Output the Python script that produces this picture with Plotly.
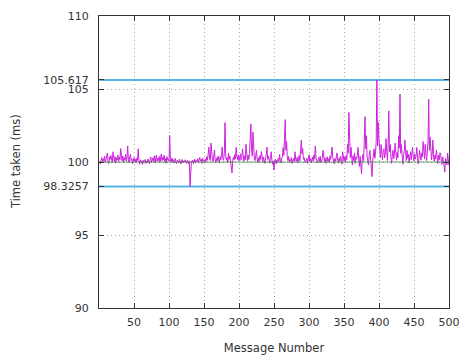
import plotly.graph_objects as go

# Time taken per message (ms), messages 1..500
times = [
    100.05, 99.85, 100.12, 100.31, 99.94, 100.22, 100.08, 100.40, 99.97, 100.15, 100.26, 100.62, 100.03, 99.90, 100.35, 100.18, 100.45, 100.10, 99.96, 100.70,
    100.20, 100.05, 100.38, 99.92, 100.28, 100.14, 100.47, 100.02, 100.33, 100.16, 100.92, 100.24, 100.08, 100.41, 99.98, 100.30, 100.12, 100.55, 100.06, 100.27,
    101.10, 100.18, 99.95, 100.36, 100.52, 100.09, 100.22, 99.88, 100.14, 100.31, 100.04, 100.19, 99.93, 100.26, 100.11, 100.90, 100.07, 99.86, 100.15, 99.97,
    100.08, 99.84, 100.12, 99.95, 100.03, 100.18, 99.90, 100.06, 99.98, 100.21, 100.02, 99.88, 100.14, 100.35, 99.96, 100.10, 100.28, 100.05, 100.42, 99.94,
    100.16, 100.48, 100.03, 100.25, 100.11, 100.38, 99.97, 100.29, 100.55, 100.08, 100.33, 100.15, 100.46, 100.02, 100.24, 99.91, 100.37, 100.12, 100.20, 100.06,
    101.82, 100.15, 99.96, 100.28, 100.05, 100.18, 99.92, 100.10, 100.24, 100.01, 99.89, 100.13, 100.06, 99.95, 100.20, 100.02, 99.87, 100.11, 100.17, 99.94,
    100.08, 99.99, 100.15, 100.03, 99.91, 100.12, 100.05, 99.86, 100.09, 98.3257, 99.92, 100.07, 99.98, 100.14, 99.88, 100.04, 100.19, 99.95, 100.10, 100.02,
    100.23, 99.97, 100.11, 100.32, 100.06, 100.18, 99.90, 100.27, 100.09, 100.14, 99.93, 100.21, 100.05, 100.36, 100.12, 100.48, 101.02, 100.25, 100.10, 101.30,
    100.35, 100.18, 100.04, 100.52, 100.82, 100.14, 99.96, 100.28, 100.09, 100.41, 100.22, 99.93, 100.37, 100.15, 100.48, 101.02, 100.26, 100.11, 100.58, 102.70,
    100.45, 100.12, 100.30, 99.95, 100.62, 100.18, 100.40, 100.08, 99.82, 99.25, 100.05, 100.33, 100.14, 100.52, 100.21, 101.00, 100.38, 100.16, 100.47, 100.09,
    100.28, 100.55, 100.12, 100.36, 100.90, 100.20, 100.05, 100.42, 100.15, 101.22, 100.31, 100.08, 100.48, 100.17, 100.60, 101.35, 102.60, 100.85, 100.40, 102.05,
    100.55, 100.22, 100.10, 100.38, 100.80, 100.15, 99.94, 100.30, 100.05, 100.45, 100.18, 100.72, 100.26, 100.02, 100.35, 100.12, 99.90, 100.28, 100.50, 101.02,
    100.18, 100.40, 100.06, 99.92, 100.33, 100.70, 100.14, 99.85, 100.08, 99.45, 100.02, 100.20, 99.88, 100.12, 99.96, 100.25, 100.04, 100.52, 100.10, 99.93,
    100.22, 100.35, 101.00, 100.45, 101.60, 102.90, 100.80, 101.40, 100.28, 100.10, 100.38, 99.95, 100.18, 100.06, 100.30, 99.90, 100.14, 100.24, 100.02, 100.70,
    100.16, 100.05, 100.32, 99.92, 100.20, 100.45, 100.08, 100.62, 101.50, 100.55, 100.92, 100.18, 100.30, 100.04, 99.96, 100.15, 100.26, 99.90, 100.10, 100.50,
    100.08, 100.22, 99.94, 100.15, 100.35, 100.05, 100.48, 100.20, 101.10, 100.28, 100.06, 99.92, 100.18, 100.30, 100.02, 100.40, 99.96, 100.14, 100.25, 100.80,
    100.12, 100.03, 100.28, 99.90, 100.16, 100.36, 100.05, 100.22, 99.95, 100.42, 100.18, 100.55, 101.02, 100.30, 100.10, 99.88, 100.24, 100.06, 100.35, 100.62,
    100.14, 99.92, 100.28, 100.05, 100.40, 100.18, 99.85, 100.70, 100.22, 100.08, 100.34, 99.96, 100.45, 100.15, 101.20, 100.60, 103.40, 100.85, 100.30, 101.00,
    100.25, 99.80, 100.42, 100.10, 100.62, 99.90, 100.35, 100.18, 100.48, 101.00, 100.22, 99.70, 100.40, 99.55, 99.20, 100.15, 100.52, 100.08, 101.40, 103.10,
    100.90, 101.80, 100.35, 100.12, 99.80, 100.45, 100.80, 100.20, 99.60, 99.00, 100.05, 100.38, 100.90, 100.25, 100.60, 101.40, 105.617, 101.10, 102.70, 101.50,
    100.65, 100.30, 101.20, 100.50, 100.15, 100.72, 100.90, 100.28, 100.55, 101.60, 100.40, 100.10, 101.10, 103.50, 100.70, 101.20, 100.35, 99.90, 100.48, 100.80,
    100.22, 100.55, 101.30, 100.40, 100.12, 100.65, 100.30, 101.80, 100.95, 104.65, 100.60, 101.20, 100.35, 99.85, 100.45, 100.70, 101.50, 100.30, 100.10, 100.80,
    100.25, 100.52, 99.92, 100.38, 100.70, 100.15, 100.48, 101.00, 100.32, 100.08, 100.55, 100.20, 100.42, 101.00, 100.30, 99.88, 100.25, 100.80, 100.40, 100.12,
    100.60, 100.35, 101.40, 100.55, 100.20, 101.20, 100.45, 100.10, 100.72, 101.30, 104.30, 100.80, 101.70, 100.40, 100.15, 100.60, 101.50, 100.35, 100.05, 100.48,
    100.20, 100.80, 100.30, 99.90, 100.45, 100.15, 100.62, 100.60, 100.08, 99.85, 100.35, 100.10, 99.70, 99.30, 100.25, 100.05, 99.80, 100.60, 100.20, 99.75,
]
messages = list(range(1, len(times) + 1))

expected = 100.0
upper_bound = 105.617
lower_bound = 98.3257

x_ticks = [50, 100, 150, 200, 250, 300, 350, 400, 450, 500]
y_ticks = [90, 95, 98.3257, 100, 105, 105.617, 110]
y_tick_text = ["90", "95", "98.3257", "100", "105", "105.617", "110"]

FONT = "DejaVu Sans, Liberation Sans, sans-serif"
TXT = "#333333"

fig = go.Figure()

fig.add_trace(go.Scatter(
    x=[0, 500], y=[upper_bound, upper_bound], mode="lines",
    line=dict(color="#56b4e9", width=2), hoverinfo="skip", showlegend=False))
fig.add_trace(go.Scatter(
    x=[0, 500], y=[lower_bound, lower_bound], mode="lines",
    line=dict(color="#56b4e9", width=2), hoverinfo="skip", showlegend=False))
fig.add_trace(go.Scatter(
    x=messages, y=times, mode="lines",
    line=dict(color="#cc22dd", width=1), showlegend=False))
fig.add_trace(go.Scatter(
    x=[0, 500], y=[expected, expected], mode="lines",
    line=dict(color="#3a8f3a", width=1), opacity=0.8, hoverinfo="skip", showlegend=False))

axis_common = dict(
    showline=True, linecolor="#333333", linewidth=1, mirror="ticks",
    ticks="inside", ticklen=5, tickcolor="#333333",
    showgrid=True, gridcolor="#a8a8a8", griddash="1px,3px", gridwidth=1,
    zeroline=False, tickfont=dict(family=FONT, size=11, color=TXT),
    automargin=False,
)

fig.update_xaxes(
    range=[0, 500], tickmode="array", tickvals=x_ticks, ticklabelstandoff=4,
    title=dict(text="Message Number", font=dict(family=FONT, size=11.5, color=TXT), standoff=16),
    **axis_common)
fig.update_yaxes(
    range=[90, 110], tickmode="array", tickvals=y_ticks, ticktext=y_tick_text,
    ticklabelstandoff=7,
    **axis_common)

# page body has an 8px default margin; the plot area sits at
# x 99..449, y 16..308 in the 474x355 window
PLOT_LEFT_IN_FIG = 91
fig.add_annotation(
    text="Time taken (ms)", textangle=-90, showarrow=False,
    xref="paper", yref="paper", x=-(PLOT_LEFT_IN_FIG - 8) / 350, y=0.5,
    xanchor="center", yanchor="middle",
    font=dict(family=FONT, size=11.5, color=TXT))

fig.update_layout(
    width=466, height=347,
    margin=dict(l=PLOT_LEFT_IN_FIG, r=25, t=8, b=47),
    paper_bgcolor="white", plot_bgcolor="white",
    showlegend=False,
)

fig.write_html("out.html")
